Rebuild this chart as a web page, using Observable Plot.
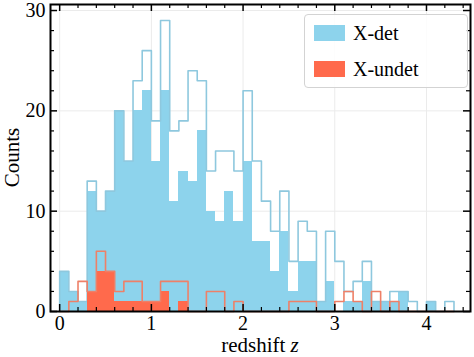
<!DOCTYPE html>
<html>
<head>
<meta charset="utf-8">
<script src="https://cdn.jsdelivr.net/npm/d3@7"></script>
<script src="https://cdn.jsdelivr.net/npm/@observablehq/plot@0.6"></script>
<style>
  html, body { margin: 0; padding: 0; background: #fff; }
  #wrap { position: relative; width: 474px; height: 357px; overflow: hidden; }
  #wrap svg { position: absolute; left: 0; top: 0; }
  #legend { position: absolute; left: 304px; top: 14px; width: 162px; height: 72px;
            border: 1px solid #d3d3d3; border-radius: 4px; background: rgba(255,255,255,0.85);
            font-family: "Liberation Serif", "DejaVu Serif", serif; font-size: 20px; color: #000; }
  .sw { position: absolute; left: 9px; width: 31px; height: 16px; }
  .lt { position: absolute; left: 48px; line-height: 20px; }
  #xtitle { position: absolute; left: 0; width: 520px; top: 334px; text-align: center;
            font-family: "Liberation Serif", "DejaVu Serif", serif; font-size: 21px; line-height: 22px; color: #000; }
  #xtitle i { font-style: italic; }
</style>
</head>
<body>
<div id="wrap"></div>
<script>
// ---- data ----
const binEdges = [0.0,0.1,0.2,0.3,0.4,0.5,0.6,0.7,0.8,0.9,1.0,1.1,1.2,1.3,1.4,1.5,1.6,1.7,1.8,1.9,2.0,2.1,2.2,2.3,2.4,2.5,2.6,2.7,2.8,2.9,3.0,3.1,3.2,3.3,3.4,3.5,3.6,3.7,3.8,3.9,4.0,4.1,4.2,4.3];
const xdetFilled   = [4,2,1,12,10,12,20,15,20,22,15,22,11,14,13,18,10,9,12,9,15,7,7,4,8,2,5,5,1,3,0,1,1,3,1,1,1,2,0,0,1,0,0];
const xdetStep     = [4,2,1,13,10,12,20,15,23,26,19,29,18,19,24,23,14,16,16,14,22,15,11,8,12,5,9,8,1,8,5,2,3,5,1,1,2,2,1,0,1,0,1];
const xundetFilled = [0,0,0,2,4,4,1,1,1,1,1,2,0,1,0,0,0,0,0,0,0,0,0,0,0,0,0,0,0,0,0,0,0,0,0,0,0,0,0,0,0,0,0];
const xundetStep   = [0,1,3,2,6,4,2,3,3,1,1,3,3,3,0,0,2,2,0,1,0,0,0,0,0,1,1,1,0,0,1,2,1,0,2,0,1,0,0,0,0,0,0];
const xMajorTicks = [0,1,2,3,4];
const xMinorTicks = [0.2,0.4,0.6,0.8,1.2,1.4,1.6,1.8,2.2,2.4,2.6,2.8,3.2,3.4,3.6,3.8,4.2,4.4];
const yMajorTicks = [0,10,20,30];
const yMinorTicks = [2,4,6,8,12,14,16,18,22,24,26,28];
const legendLabels = ["X-det", "X-undet"];
const xLabel = "redshift ";
const xLabelItalic = "z";
const yLabel = "Counts";

// ---- styling ----
const C_DET_FILL = "#8dd3ec", C_DET_STEP = "#8ec8de";
const C_UND_FILL = "#ff6a4c", C_UND_STEP = "#ee8068";
const W = 474, H = 357, mL = 50, mR = 4, mT = 4, mB = 46;
const innerW = W - mL - mR, innerH = H - mT - mB;

const bars = counts => counts.map((c, i) => ({x1: binEdges[i], x2: binEdges[i + 1], c}));
const steps = counts => {
  const pts = [{x: binEdges[0], c: 0}];
  counts.forEach((c, i) => { pts.push({x: binEdges[i], c}); pts.push({x: binEdges[i + 1], c}); });
  pts.push({x: binEdges[counts.length], c: 0});
  return pts;
};

const plot = Plot.plot({
  width: W, height: H,
  marginLeft: mL, marginRight: mR, marginTop: mT, marginBottom: mB,
  style: {fontFamily: '"Liberation Serif", "DejaVu Serif", serif', fontSize: "20px", color: "#000", background: "transparent"},
  x: {domain: [-0.1, 4.48]},
  y: {domain: [0, 30.6]},
  marks: [
    Plot.gridX(xMajorTicks, {stroke: "#ebebeb", strokeOpacity: 1, strokeWidth: 1}),
    Plot.gridY(yMajorTicks, {stroke: "#ebebeb", strokeOpacity: 1, strokeWidth: 1}),
    Plot.rect(bars(xdetFilled), {x1: "x1", x2: "x2", y1: 0, y2: "c", fill: C_DET_FILL, inset: 0, shapeRendering: "crispEdges"}),
    Plot.line(steps(xdetStep), {x: "x", y: "c", stroke: C_DET_STEP, strokeWidth: 1.6, curve: "linear"}),
    Plot.rect(bars(xundetFilled), {x1: "x1", x2: "x2", y1: 0, y2: "c", fill: C_UND_FILL, inset: 0, shapeRendering: "crispEdges"}),
    Plot.line(steps(xundetStep), {x: "x", y: "c", stroke: C_UND_STEP, strokeWidth: 1.6, curve: "linear"}),
    // inward ticks on all four sides
    Plot.ruleX(xMajorTicks, {x: d => d, insetTop: innerH - 7, stroke: "#000", strokeWidth: 1.5}),
    Plot.ruleX(xMajorTicks, {x: d => d, insetBottom: innerH - 7, stroke: "#000", strokeWidth: 1.5}),
    Plot.ruleX(xMinorTicks, {x: d => d, insetTop: innerH - 4, stroke: "#000", strokeWidth: 1.2}),
    Plot.ruleX(xMinorTicks, {x: d => d, insetBottom: innerH - 4, stroke: "#000", strokeWidth: 1.2}),
    Plot.ruleY(yMajorTicks, {y: d => d, insetRight: innerW - 7, stroke: "#000", strokeWidth: 1.5}),
    Plot.ruleY(yMajorTicks, {y: d => d, insetLeft: innerW - 7, stroke: "#000", strokeWidth: 1.5}),
    Plot.ruleY(yMinorTicks, {y: d => d, insetRight: innerW - 4, stroke: "#000", strokeWidth: 1.2}),
    Plot.ruleY(yMinorTicks, {y: d => d, insetLeft: innerW - 4, stroke: "#000", strokeWidth: 1.2}),
    Plot.frame({stroke: "#000", strokeWidth: 2}),
    Plot.axisX(xMajorTicks, {tickSize: 0, tickPadding: 4, label: null, fontSize: 20, fill: "#000"}),
    Plot.axisY(yMajorTicks, {tickSize: 0, tickPadding: 5, label: null, fontSize: 20, fill: "#000"})
  ]
});

const wrap = document.getElementById("wrap");
wrap.appendChild(plot);

// y axis title as real SVG text
const svg = d3.select(plot);
svg.append("text")
  .attr("transform", `translate(19,${mT + innerH / 2}) rotate(-90)`)
  .attr("text-anchor", "middle")
  .attr("font-family", '"Liberation Serif", serif').attr("font-size", 21).attr("fill", "#000")
  .text(yLabel);

// x axis title as HTML text with italic z
const xt = document.createElement("div");
xt.id = "xtitle";
xt.appendChild(document.createTextNode(xLabel));
const zi = document.createElement("i");
zi.textContent = xLabelItalic;
xt.appendChild(zi);
wrap.appendChild(xt);

// legend
const legend = document.createElement("div");
legend.id = "legend";
const swatches = [C_DET_FILL, C_UND_FILL];
legendLabels.forEach((lab, i) => {
  const sw = document.createElement("div");
  sw.className = "sw";
  sw.style.top = (10 + i * 36) + "px";
  sw.style.background = swatches[i];
  legend.appendChild(sw);
  const t = document.createElement("div");
  t.className = "lt";
  t.style.top = (8 + i * 36) + "px";
  t.textContent = lab;
  legend.appendChild(t);
});
wrap.appendChild(legend);
</script>
</body>
</html>
